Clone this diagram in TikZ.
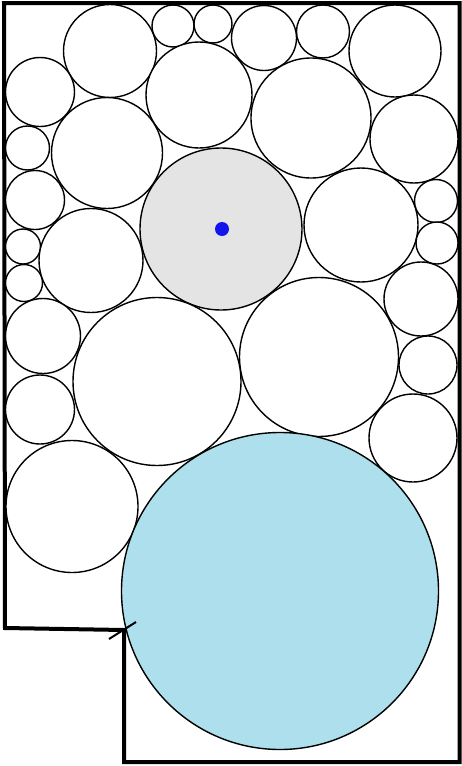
\documentclass[tikz,border=0pt]{standalone}
\definecolor{grayfill}{HTML}{E4E4E4}
\definecolor{bigblue}{HTML}{ADE0EC}
\definecolor{dotblue}{HTML}{1414EC}
\tikzset{
  disc/.style={draw=black, line width=1.4pt, fill=white},
  wall/.style={draw=black, line width=4pt, line join=miter}
}
\begin{document}
\begin{tikzpicture}[x=1pt,y=-1pt]
\useasboundingbox (0,0) rectangle (462,766);
\fill [white] (0,0) rectangle (462,766);

\draw [wall] (4,3) -- (459.5,3) -- (459.5,762) -- (124,762) -- (124,630) -- (5,628) -- cycle;

% top row
\draw [disc] (110,51) circle [radius=46.5pt];
\draw [disc] (173,26) circle [radius=21pt];
\draw [disc] (213,24) circle [radius=19pt];
\draw [disc] (264,38) circle [radius=32.5pt];
\draw [disc] (323,31.5) circle [radius=26.5pt];
\draw [disc] (395,51) circle [radius=46pt];

% second row
\draw [disc] (40,92) circle [radius=34.5pt];
\draw [disc] (199,95) circle [radius=53pt];
\draw [disc] (311,118) circle [radius=60pt];
\draw [disc] (414,139) circle [radius=44pt];
\draw [disc] (27.5,148) circle [radius=22pt];
\draw [disc] (107,153) circle [radius=55.5pt];

% middle
\draw [disc, fill=grayfill] (221,229) circle [radius=81pt];
\fill [dotblue] (222,229) circle [radius=7pt];
\draw [disc] (35,200) circle [radius=29.5pt];
\draw [disc] (361,225) circle [radius=57pt];
\draw [disc] (436,201) circle [radius=21.5pt];
\draw [disc] (437,243) circle [radius=21pt];
\draw [disc] (23,246.5) circle [radius=17.5pt];
\draw [disc] (24,283) circle [radius=18.5pt];
\draw [disc] (91,260.5) circle [radius=52pt];
\draw [disc] (421,299) circle [radius=37pt];
\draw [disc] (43,336) circle [radius=37.5pt];
\draw [disc] (319,357) circle [radius=79.5pt];
\draw [disc] (157,381.5) circle [radius=84pt];
\draw [disc] (428,365) circle [radius=29pt];
\draw [disc] (40,409.5) circle [radius=34.5pt];
\draw [disc] (413,438) circle [radius=44pt];

% bottom
\draw [disc] (72,506.5) circle [radius=66pt];
\draw [disc, fill=bigblue] (280,591) circle [radius=158.5pt];

\draw [line width=2pt] (109,639) -- (136,622);
\end{tikzpicture}
\end{document}
